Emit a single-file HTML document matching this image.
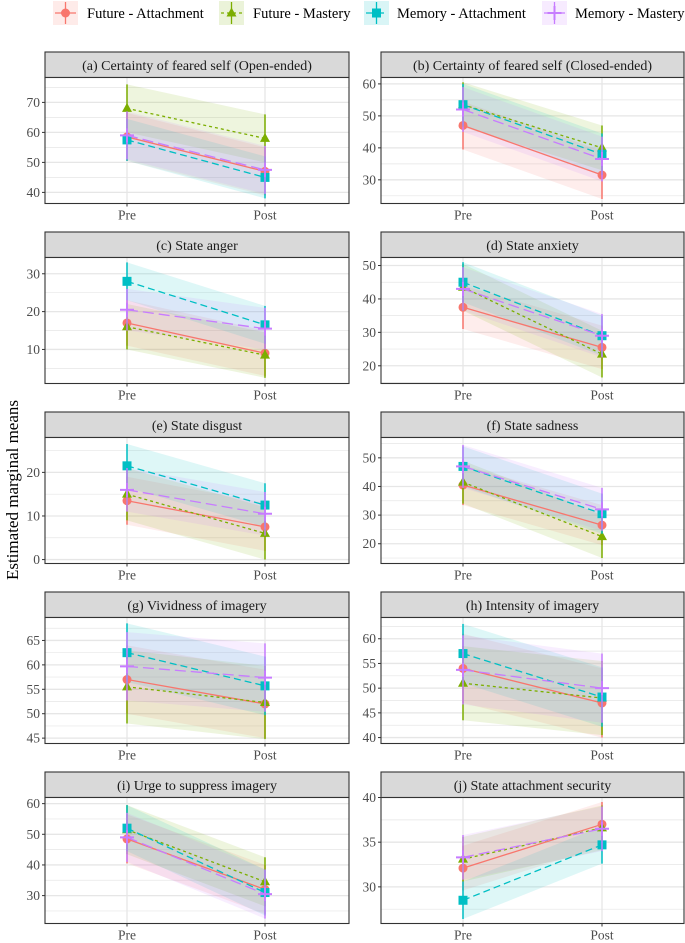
<!DOCTYPE html>
<html><head><meta charset="utf-8">
<style>
body{margin:0;background:#fff;}
svg{display:block;font-family:"Liberation Serif",serif;}
</style></head>
<body>
<svg id="chart" width="685" height="943" xmlns="http://www.w3.org/2000/svg"></svg>
<script>
const series = ["Future - Attachment","Future - Mastery","Memory - Attachment","Memory - Mastery"];
const timepoints = ["Pre","Post"];
const panelTitles = ["(a) Certainty of feared self (Open-ended)","(b) Certainty of feared self (Closed-ended)","(c) State anger","(d) State anxiety","(e) State disgust","(f) State sadness","(g) Vividness of imagery","(h) Intensity of imagery","(i) Urge to suppress imagery","(j) State attachment security"];
const yDomains = [[36.3,78.3],[22.6,62],[1.0,34.3],[14.7,52.4],[-0.9,28.0],[13.1,57.1],[43.9,69.7],[38.8,64.3],[20.9,62.0],[25.9,40.0]];
const yTicks = [[40,50,60,70],[30,40,50,60],[10,20,30],[20,30,40,50],[0,10,20],[20,30,40,50],[45,50,55,60,65],[40,45,50,55,60],[30,40,50,60],[30,35,40]];
// means [pre, post] per series, per panel
const meansFA = [[58.5,47],[47,31.5],[17,9],[37.5,25.5],[13.5,7.5],[40.5,26.5],[57,52],[54,47],[48.5,32],[32.1,37]];
const meansFM = [[68,58],[53.5,40],[16,8.5],[43.5,23.5],[15,6],[41.5,22.5],[55.5,52.3],[51,48],[51.5,34.5],[33.1,36.6]];
const meansMA = [[57.5,45],[53.5,38],[28,16.5],[45,29],[21.5,12.5],[47,30.5],[62.5,55.7],[57,48.2],[52,31],[28.5,34.7]];
const meansMM = [[59,47.5],[52,36.5],[20.5,15.5],[43,29],[16,10.5],[47,32],[59.7,57.4],[53.7,50],[49,30.5],[33.3,36.5]];
// CI half-widths
const ciFA = [8,7.5,6,6.5,5.5,7,7,7,8,2.5];
const ciFM = [8,7,6,7,6,7.5,7.5,7.5,8,2.5];
const ciMA = [7,6.5,5,6,5,7,6,6,7.5,2.1];
const ciMM = [8,7,5.5,6.5,5,7.5,7,7,8,2.5];

const colors = ["#F8766D","#7CAE00","#00BFC4","#C77CFF"];
const dashes = ["", "3,3", "7,4", "11,5"];
const allMeans=[meansFA,meansFM,meansMA,meansMM], allCI=[ciFA,ciFM,ciMA,ciMM];
const NS="http://www.w3.org/2000/svg";
const svg=document.getElementById('chart');
function mk(tag,attrs,parent){const e=document.createElementNS(NS,tag);for(const k in attrs)e.setAttribute(k,attrs[k]);(parent||svg).appendChild(e);return e;}
function marker(g,i,x,y,s){
  const c=colors[i];
  if(i===0){return mk('circle',{cx:x,cy:y,r:4.5*s,fill:c},g);}
  if(i===1){return mk('polygon',{points:`${x},${y-5.5*s} ${x-5*s},${y+3.5*s} ${x+5*s},${y+3.5*s}`,fill:c},g);}
  if(i===2){return mk('rect',{x:x-4.5*s,y:y-4.5*s,width:9*s,height:9*s,fill:c},g);}
  const p=mk('path',{d:`M${x-7*s},${y}H${x+7*s}M${x},${y-7*s}V${y+7*s}`,stroke:c,'stroke-width':2},g);return p;
}
// legend
const legX=[53,219,364,542], legT=[87,253,397,575];
series.forEach((s,i)=>{
  const g=mk('g',{});
  
  
  mk('rect',{x:legX[i],y:1,width:25,height:24,fill:colors[i],'fill-opacity':0.15},g);
  mk('line',{x1:legX[i]+2,x2:legX[i]+23,y1:13,y2:13,stroke:colors[i],'stroke-width':1.3,'stroke-dasharray':dashes[i]},g);
  mk('line',{x1:legX[i]+12.5,x2:legX[i]+12.5,y1:2,y2:24,stroke:colors[i],'stroke-width':1.3},g);
  marker(g,i,legX[i]+12.5,13,1);
  const t=mk('text',{x:legT[i],y:18,'font-size':14.5,fill:'#000'},g);t.textContent=s;
});
// y title
const yt=mk('text',{x:0,y:0,'font-size':17,transform:'translate(18,490) rotate(-90)','text-anchor':'middle',fill:'#000'});


yt.textContent="Estimated marginal means";

panelTitles.forEach((title,p)=>{
  const col=p%2,row=Math.floor(p/2);
  const L=col?381:45,R=col?684:349,sT=52+row*180,T=sT+25.5,B=T+126;
  const xPre=col?463:127,xPost=col?602:265;
  const xs=[xPre,xPost];
  const [d0,d1]=yDomains[p];
  const y=v=>B-(v-d0)/(d1-d0)*(B-T);
  const g=mk('g',{});
  
  
  mk('rect',{x:L,y:sT,width:R-L,height:T-sT,fill:'#d9d9d9',stroke:'#333','stroke-width':1.1},g);
  const st=mk('text',{x:(L+R)/2,y:sT+18,'font-size':14,'text-anchor':'middle',fill:'#1a1a1a'},g);
  
  
  st.textContent=title;
  mk('rect',{x:L,y:T,width:R-L,height:B-T,fill:'#fff'},g);
  const tk=yTicks[p];const step=tk[1]-tk[0];
  for(let v=tk[0]-step/2;v<=d1;v+=step/2){ if(v<d0)continue;
    mk('line',{x1:L,x2:R,y1:y(v),y2:y(v),stroke:'#e6e6e6','stroke-width':(Math.abs((v-tk[0])/step%1)<0.01)?1.3:0.7},g);}
  xs.forEach(x=>mk('line',{x1:x,x2:x,y1:T,y2:B,stroke:'#e6e6e6','stroke-width':1.3},g));
  tk.forEach(v=>{
    mk('line',{x1:L-3,x2:L,y1:y(v),y2:y(v),stroke:'#333'},g);
    const t=mk('text',{x:L-5,y:y(v)+4.5,'font-size':13.5,'text-anchor':'end',fill:'#4d4d4d'},g);t.textContent=v;
  });
  xs.forEach((x,k)=>{
    mk('line',{x1:x,x2:x,y1:B,y2:B+3,stroke:'#333'},g);
    const t=mk('text',{x:x,y:B+16,'font-size':13.5,'text-anchor':'middle',fill:'#4d4d4d'},g);t.textContent=timepoints[k];
  });
  for(let i=0;i<4;i++){
    const m=allMeans[i][p],c=allCI[i][p];
    const r=mk('polygon',{points:`${xs[0]},${y(m[0]+c)} ${xs[1]},${y(m[1]+c)} ${xs[1]},${y(m[1]-c)} ${xs[0]},${y(m[0]-c)}`,fill:colors[i],'fill-opacity':0.13},g);
    
    
  }
  for(let i=0;i<4;i++){
    const m=allMeans[i][p],c=allCI[i][p];
    const ln=mk('line',{x1:xs[0],y1:y(m[0]),x2:xs[1],y2:y(m[1]),stroke:colors[i],'stroke-width':1.3,'stroke-dasharray':dashes[i]},g);
    
    
    xs.forEach((x,k)=>{
      mk('line',{x1:x,x2:x,y1:y(m[k]-c),y2:y(m[k]+c),stroke:colors[i],'stroke-width':1.5},g);
      const pt=marker(g,i,x,y(m[k]),1);
      
      
    });
  }
  mk('rect',{x:L,y:T,width:R-L,height:B-T,fill:'none',stroke:'#333','stroke-width':1.1},g);
});
</script>
</body></html>
